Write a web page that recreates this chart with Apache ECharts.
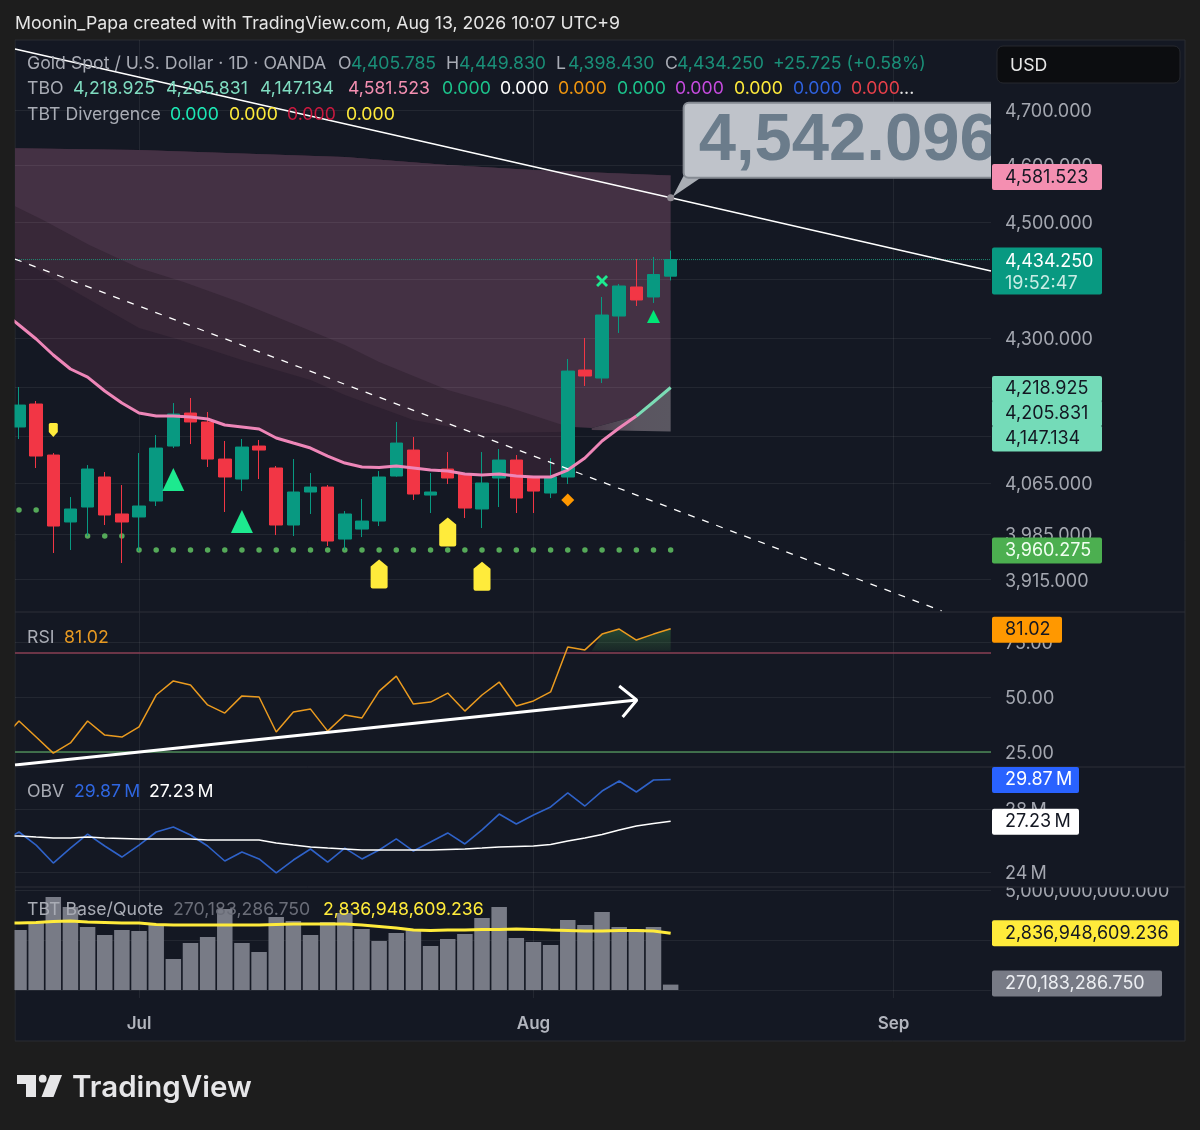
<!DOCTYPE html>
<html><head><meta charset="utf-8">
<style>html,body{margin:0;padding:0;background:#1d1d1d}#c{width:1200px;height:1130px}</style>
<script src="https://cdn.jsdelivr.net/npm/echarts@6/dist/echarts.min.js"></script>
</head><body><div id="c"></div>
<script>
// ---- data ----
const monthIdx=[7,30,51];
const monthNames=['Jul','Aug','Sep'];
const opens=[4154.6,4191.9,4109.5,4003.8,4027.2,4074.5,4016.3,4011.6,4036.6,4123.9,4177.2,4162.7,4103.1,4071.3,4123.9,4088.8,3999.1,4050.8,4058.6,3977.3,3992.8,4005.3,4076.1,4117.5,4046,4087.2,4079.2,4024.1,4072.9,4101.5,4072.9,4049.2,4074.5,4247.7,4234.5,4337.9,4387.2,4370.2,4405.785];
const closes=[4190.2,4107.9,3997.5,4024.1,4087.2,4014.7,4003.8,4028.8,4120.7,4175.6,4162.7,4103.1,4074.5,4122.3,4117.5,3999.1,4050.8,4058.6,3974.3,4016.3,4005.3,4074.5,4128.7,4047.6,4050.8,4072.9,4025.6,4065,4101.5,4041.3,4052.3,4074.5,4246,4237.8,4339.6,4388.9,4365.1,4408.525,4434.25];
const lows=[4135.2,4088.8,3955.8,3960.4,3982,3999.1,3940.4,3958.9,4028.8,4120.7,4127.1,4090.4,4019.4,4052.3,4071.3,3983.5,3982,4016.3,3966.5,3960.4,3980.4,3997.5,4075,4038.2,4017.8,4063.4,4010,3994.4,4027.2,4017.8,4017.8,4041.3,4063.4,4221.4,4226.3,4309.4,4354.9,4360,4398.43];
const highs=[4219.7,4196.8,4112.7,4042.9,4093.5,4082.4,4061.8,4112.7,4141.6,4193.5,4201.7,4178.9,4132,4135.2,4133.6,4092,4103.1,4080.8,4061.8,4020.9,4039.8,4084,4162.7,4138.4,4080.8,4114.3,4080,4114.3,4119.1,4109.5,4074.5,4104.7,4266,4301,4370.2,4392.3,4435.3,4438.8,4449.83];
// TBO line, first entry sits one bar left of the visible range
const tboLine=[4346.4,4322.8,4299.3,4272.6,4249.4,4236.1,4213.2,4193.5,4177.2,4172.3,4172.3,4170.7,4167.5,4157.8,4154.6,4151.3,4136.8,4128.7,4120.7,4107.9,4096.7,4090.4,4089.6,4092,4088.8,4085.6,4084,4079.2,4077.7,4079.2,4076.1,4074.5,4074.5,4085.6,4104.7,4132,4153,4172.3,4195.2,4218.925];
const tboTeal=[[36,4172.3],[37,4195.2],[38,4218.925]];
const cloudTop=[[-1,4631],[7,4627.4],[19,4614.8],[25,4600.5],[30,4591.5],[38,4581.523]];
const cloudEdge1=[[38,4218.925],[37,4195.2],[36,4172.3],[33.4,4153],[32,4155],[28.5,4186.9],[25,4214.8],[21,4261],[19,4289.2],[16.6,4317.7],[13,4360],[9.6,4395.8],[7,4419.8],[4.1,4459.5],[1.4,4503.1],[-1,4538.3]];
const cloudEdge2=[[32.3,4147],[27,4144.8],[23,4165.9],[19,4206.6],[17,4231.2],[13,4264.3],[9.4,4297.6],[7,4317.7],[2.4,4394.1],[-1,4454.3]];
const cloudEnd=[[32.3,4147],[32,4085.6]];
const wedgeUpper=[[33.4,4153],[36,4172.3],[37,4195.2],[38,4218.925]];
const wedgeLower=[[38,4147.134],[33.4,4149.7]];
const supportDots=[4022.5,4022.5,null,null,3982,3982,3982,3960.275,3960.275,3960.275,3960.275,3960.275,3960.275,3960.275,3960.275,3960.275,3960.275,3960.275,3960.275,3960.275,3960.275,3960.275,3960.275,3960.275,3960.275,3960.275,3960.275,3960.275,3960.275,3960.275,3960.275,3960.275,3960.275,3960.275,3960.275,3960.275,3960.275,3960.275,3960.275];
const bigTriangles=[[9,4070.5],[13,4004.5]];
const smallTriangles=[[37,4337.1]];
const crosses=[[34,4397.5]];
const diamonds=[[32,4038.2]];
const yellowFlagsUp=[[21,3923.6],[25,3988.2],[27,3920]];
const yellowFlagsDown=[[2,4149.7]];
const lastPrice=4434.25;
const calloutPoint=[38,4542.096];
const trendSolid=[[-0.233,4812.9],[38,4542.096],[56.68,4414.6]];
const trendDashed=[[-0.233,4435.2],[53.8,3867.7]];
const rsiLine=[30.5,39.1,31.8,24.5,29.1,39.1,32.7,31.8,36.4,50.9,57.3,55.5,46.4,42.7,50.5,50,34.1,43.2,44.5,34.5,41.8,40.5,52.7,59.5,46.8,47.7,51.8,43.6,50.9,56.8,45.9,48.2,52.3,72.7,71.4,78.6,80.9,75.9,78.6,81.02];
const rsiOverbought=[[33.4,71],[34,78.6],[35,80.9],[36,75.9],[37,78.6],[38,81.02],[38,71]];
const rsiArrow=[[-0.233,19.1],[36.03,48.6]];
const rsiArrowHead=[[35,55],[36.03,48.6],[35.2,40.9]];
const obvLine=[25.9,26.54,25.71,24.57,25.52,26.41,25.65,24.95,25.71,26.54,26.86,26.35,25.65,24.70,25.27,24.83,23.94,24.76,25.46,24.63,25.52,24.83,25.40,26.10,25.33,25.90,26.48,25.78,26.67,27.68,27.05,27.62,28.13,29.02,28.19,29.14,29.78,29.08,29.84,29.87];
const obvAvg=[26.29,26.29,26.22,26.16,26.16,26.22,26.16,26.13,26.10,26.10,26.10,26.10,26.03,26.03,26.03,26.03,25.84,25.71,25.59,25.52,25.46,25.40,25.40,25.40,25.40,25.40,25.43,25.46,25.52,25.59,25.62,25.65,25.75,25.97,26.16,26.38,26.67,26.92,27.08,27.23];
const tbtBars=[3.0e9,3.35e9,4.65e9,4.15e9,3.15e9,2.75e9,3.0e9,2.95e9,3.25e9,1.55e9,2.35e9,2.65e9,4.05e9,2.35e9,1.9e9,3.65e9,3.45e9,2.75e9,3.4e9,3.85e9,3.05e9,2.45e9,2.85e9,3.0e9,2.2e9,2.55e9,2.8e9,3.6e9,4.15e9,2.6e9,2.4e9,2.25e9,3.5e9,3.25e9,3.9e9,3.15e9,3.05e9,3.15e9,270183286.75];
const tbtAvg=[3.35e9,3.35e9,3.38e9,3.43e9,3.45e9,3.40e9,3.38e9,3.35e9,3.35e9,3.28e9,3.25e9,3.25e9,3.25e9,3.25e9,3.25e9,3.25e9,3.28e9,3.30e9,3.30e9,3.30e9,3.30e9,3.25e9,3.18e9,3.10e9,3.00e9,2.98e9,3.00e9,3.00e9,3.03e9,3.03e9,3.05e9,3.03e9,3.00e9,2.98e9,2.95e9,2.95e9,2.98e9,2.98e9,2.95e9,2836948609.236];
const priceTicks=[4700,4600,4500,4400,4300,4220,4140,4065,3985,3915];
const rsiTicks=[75,50,25];
const rsiLevels=[70,25];
const obvTicks=[28,24];
const tbtTicks=[5e9,2.5e9,0];
const tbtTickLabels=['5,000,000,000.000','',''];
// price tags: value, text, background, text colour, width, vertical shift
const priceTags=[[4581.523,'4,581.523','#f48fb1','#131722',110,1.5],[4218.925,'4,218.925','#74dbb8','#131722',110,1.5],[4205.831,'4,205.831','#74dbb8','#131722',110,18],[4147.134,'4,147.134','#74dbb8','#131722',110,7],[3960.275,'3,960.275','#4caf50','#f0fff0',110,0.5]];
const rsiTags=[[81.02,'81.02','#ff9800','#131722',70,1]];
const obvTags=[[29.87,'29.87\u2009M','#2962ff','#ffffff',87,0.5],[27.23,'27.23\u2009M','#ffffff','#131722',87,0.5]];
const tbtTags=[[2836948609.236,'2,836,948,609.236','#ffeb3b','#131722',187,0],[270183286.75,'270,183,286.750','#787b86','#eceef2',170,-1]];

// ---- layout ----
const F='Inter, sans-serif', AXC='#a4a7b0', GRID='rgba(255,255,255,0.065)', AXS=18, LGS=17.7;
const xMin=-0.233, xMax=56.68;
const panes=[{top:40,height:572},{top:612,height:155},{top:767,height:120},{top:887,height:103}];
const xs=a=>a.map((v,k)=>[k,v]);
const xsLead=a=>a.map((v,k)=>[k-1,v]);

function line(p,data,color,width,extra){return Object.assign({type:'line',xAxisIndex:p,yAxisIndex:p,data,showSymbol:false,symbol:'none',silent:true,z:8,lineStyle:{color,width},clip:true},extra||{});}
function poly(p,pts,fill,z){return {type:'custom',xAxisIndex:p,yAxisIndex:p,data:[pts[0]],silent:true,clip:true,z:z,encode:{x:0,y:1},
  renderItem:(params,api)=>({type:'polygon',shape:{points:pts.map(q=>api.coord(q))},style:{fill:fill}})};}
function ticks(p,vals,fmt){return {type:'line',xAxisIndex:p,yAxisIndex:p,data:[],z:3,silent:true,markLine:{silent:true,symbol:'none',animation:false,precision:3,lineStyle:{color:GRID,width:1,type:'solid'},
  label:{position:'end',distance:14,color:AXC,fontFamily:F,fontSize:AXS,offset:[0,1.5]},
  data:vals.map((v,i)=>({yAxis:v,label:{formatter:fmt(v,i)}}))}};}
function marks(p,data,symbol,size,color,z){return {type:'scatter',xAxisIndex:p,yAxisIndex:p,data,symbol,symbolSize:size,silent:true,z:z||9,itemStyle:{color,opacity:1},clip:true};}
function tags(p,list){return list.map(t=>({type:'scatter',xAxisIndex:p,yAxisIndex:p,symbol:'circle',symbolSize:0,silent:true,clip:false,z:50,itemStyle:{opacity:1},data:[[xMax,t[0]]],
  label:{show:true,opacity:1,position:'right',distance:1,offset:[0,t[5]],formatter:t[1],color:t[3],backgroundColor:t[2],borderRadius:2,fontFamily:F,fontSize:AXS,width:t[4]-13,height:26,lineHeight:26,padding:[0,0,0,13],overflow:'none'}}));}
const HOUSE='path://M8.5,0 L17,7 L17,27 Q17,29 15,29 L2,29 Q0,29 0,27 L0,7 Z';
const HOUSE_DOWN='path://M1.5,0 L7.5,0 Q9,0 9,1.5 L9,9 L4.5,14 L0,9 L0,1.5 Q0,0 1.5,0 Z';
const CROSS='path://M2,0 L6,4 L10,0 L12,2 L8,6 L12,10 L10,12 L6,8 L2,12 L0,10 L4,6 L0,2 Z';
const fmt3=v=>v.toLocaleString('en-US',{minimumFractionDigits:3,maximumFractionDigits:3});

const calloutText='4,542.096';
const series=[
 poly(0,cloudTop.concat(cloudEnd).concat(tboLine.slice(0,33).map((v,k)=>[k-1,v]).reverse()),'#2e2131',1),
 poly(0,cloudTop.concat(cloudEdge2),'#382838',1.1),
 poly(0,cloudTop.concat(cloudEdge1),'#443144',1.2),
 {type:'custom',xAxisIndex:0,yAxisIndex:0,data:[wedgeUpper[0]],silent:true,clip:true,z:1.3,encode:{x:0,y:1},
  renderItem:(params,api)=>{const pts=wedgeUpper.concat(wedgeLower).map(q=>api.coord(q));return {type:'polygon',shape:{points:pts},style:{fill:new echarts.graphic.LinearGradient(0,0,1,0,[{offset:0,color:'#4a3a4a'},{offset:0.55,color:'#5a5560'},{offset:1,color:'#5a5761'}])}};}},
 ticks(0,priceTicks,fmt3),
 ticks(1,rsiTicks,v=>v.toFixed(2)),
 ticks(2,obvTicks,v=>v+'\u2009M'),
 ticks(3,tbtTicks,(v,i)=>tbtTickLabels[i]),
 line(0,[[xMin,lastPrice],[xMax,lastPrice]],'#1f8a75',1,{lineStyle:{color:'#1f8a75',width:1,type:'dotted'},z:4}),
 marks(0,xs(supportDots).filter(d=>d[1]!==null),'circle',5.5,'#55a959',5),
 {type:'candlestick',xAxisIndex:0,yAxisIndex:0,silent:true,z:6,barWidth:13,
  data:opens.map((o,i)=>[i,o,closes[i],lows[i],highs[i]]),
  itemStyle:{color:'#089981',color0:'#f23645',borderColor:'#089981',borderColor0:'#f23645',borderWidth:1}},
 line(0,xsLead(tboLine).slice(0,38),'#ee86b8',3,{z:7}),
 line(0,tboTeal,'#7bdcb5',3,{z:7}),
 marks(0,bigTriangles,'triangle',[22,23],'#1de98f'),
 marks(0,smallTriangles,'triangle',[13,13],'#00e676'),
 marks(0,crosses,CROSS,[12,12],'#1de98f'),
 marks(0,diamonds,'diamond',[13,13],'#ff9800'),
 marks(0,yellowFlagsUp,HOUSE,[17,29],'#ffeb3b'),
 marks(0,yellowFlagsDown,HOUSE_DOWN,[9,14],'#ffeb3b'),
 line(0,trendDashed,'#ffffff',1.3,{lineStyle:{color:'#ffffff',width:1.3,type:[7,8]},z:8}),
 line(0,trendSolid,'#ffffff',1.5,{z:8}),
 {type:'custom',xAxisIndex:0,yAxisIndex:0,data:[calloutPoint],silent:true,clip:true,z:10,encode:{x:0,y:1},
  renderItem:(params,api)=>{const c=api.coord(calloutPoint);return {type:'group',x:c[0],y:c[1],children:[
    {type:'polygon',shape:{points:[[2,-1],[14,-24],[30,-20]]},style:{fill:'#a9adb4'}},
    {type:'rect',shape:{x:13,y:-95,width:340,height:75,r:5},style:{fill:'#bfc3ca',stroke:'#858a92',lineWidth:2}},
    {type:'text',x:28,y:-56,style:{text:calloutText,fill:'#6b7c8b',font:'bold 67px "Liberation Sans", Arial, sans-serif',verticalAlign:'middle'}},
    {type:'circle',shape:{cx:0,cy:0,r:3.5},style:{fill:'#8d8891'}}
  ]};}},
 // RSI
 {type:'line',xAxisIndex:1,yAxisIndex:1,data:[],z:4,silent:true,markLine:{silent:true,symbol:'none',animation:false,label:{show:false},
   data:[{yAxis:rsiLevels[0],lineStyle:{color:'#8a3f54',width:1.5,type:'solid'}},{yAxis:rsiLevels[1],lineStyle:{color:'#4c8a57',width:1.5,type:'solid'}}]}},
 {type:'custom',xAxisIndex:1,yAxisIndex:1,data:[rsiOverbought[0]],silent:true,clip:true,z:5,encode:{x:0,y:1},
  renderItem:(params,api)=>({type:'polygon',shape:{points:rsiOverbought.map(q=>api.coord(q))},style:{fill:new echarts.graphic.LinearGradient(0,0,0,1,[{offset:0,color:'rgba(76,175,80,0.32)'},{offset:1,color:'rgba(76,175,80,0.10)'}])}})},
 line(1,xsLead(rsiLine),'#eb9b1f',1.5),
 line(1,rsiArrow,'#ffffff',3,{z:9}),
 line(1,rsiArrowHead,'#ffffff',3,{z:9}),
 // OBV
 line(2,xsLead(obvLine),'#2f62c8',1.6),
 line(2,xsLead(obvAvg),'#ffffff',1.5),
 // TBT
 {type:'bar',xAxisIndex:3,yAxisIndex:3,silent:true,z:5,barWidth:15.5,data:xs(tbtBars),itemStyle:{color:'#787b86'}},
 line(3,xsLead(tbtAvg),'#ffeb3b',3),
 ...tags(0,priceTags),
 {type:'scatter',xAxisIndex:0,yAxisIndex:0,symbol:'circle',symbolSize:0,silent:true,clip:false,z:50,itemStyle:{opacity:1},data:[[xMax,lastPrice]],
  label:{show:true,opacity:1,position:'right',distance:1,offset:[0,11.5],formatter:'{a|4,434.250}\n{b|19:52:47}',backgroundColor:'#089981',borderRadius:2,fontFamily:F,fontSize:AXS,width:97,padding:[3,0,0,13],overflow:'none',
   rich:{a:{color:'#ffffff',fontFamily:F,fontSize:AXS,lineHeight:22},b:{color:'#c8ece4',fontFamily:F,fontSize:AXS,lineHeight:22}}}},
 ...tags(1,rsiTags),...tags(2,obvTags),...tags(3,tbtTags)
];

// ---- text rows ----
const G='#1a8f78', T='#7fdcc0', GR='#a9acb5';
const legendRows=[
 [27,63,'Gold Spot / U.S. Dollar · 1D · OANDA',GR],[338,63,'O',GR],[351,63,'4,405.785',G],[446,63,'H',GR],[459,63,'4,449.830',G],[556,63,'L',GR],[568,63,'4,398.430',G],[665,63,'C',GR],[677,63,'4,434.250',G],[773,63,'+25.725 (+0.58%)',G],
 [27,88,'TBO',GR],[73,88,'4,218.925',T],[166,88,'4,205.831',T],[260,88,'4,147.134',T],[348,88,'4,581.523','#f48fb1'],[442,88,'0.000','#1cc48c'],[500,88,'0.000','#ffffff'],[558,88,'0.000','#f0960f'],[617,88,'0.000','#1cc48c'],[675,88,'0.000','#c74be0'],[734,88,'0.000','#ffeb3b'],[793,88,'0.000','#2f62e0'],[851,88,'0.000','#e8404a'],[899,88,'...','#e8e8e8'],
 [27,114,'TBT Divergence',GR],[170,114,'0.000','#1de9b6'],[229,114,'0.000','#ffeb3b'],[287,114,'0.000','#c8193f'],[346,114,'0.000','#ffeb3b'],
 [27,637,'RSI',GR],[64,637,'81.02','#e89a22'],
 [27,791,'OBV',GR],[74,791,'29.87\u2009M','#2f66e0'],[149,791,'27.23\u2009M','#ffffff'],
 [27,909,'TBT Base/Quote',GR],[173,909,'270,183,286.750','#6a6d78'],[323,909,'2,836,948,609.236','#ffeb3b']
];
const txt=(x,y,s,c,font,z)=>({type:'text',x,y:y+1,z:z||40,silent:true,style:{text:s,fill:c,font:font||(LGS+'px '+F),verticalAlign:'middle'}});
const hline=(y)=>({type:'line',z:45,silent:true,shape:{x1:15,y1:y,x2:1185,y2:y},style:{stroke:'#2c2f38',lineWidth:1}});
const graphicEls=[
 {type:'rect',z:-100,silent:true,shape:{x:15,y:40,width:1170,height:1001},style:{fill:'#141823',stroke:'#2a2c33',lineWidth:1}},
 {type:'rect',z:44,silent:true,shape:{x:0,y:40,width:14.5,height:1001},style:{fill:'#1d1d1d'}},
 {type:'rect',z:44,silent:true,shape:{x:992,y:880,width:190,height:7},style:{fill:'#141823'}},
 hline(612),hline(767),hline(887),
 txt(15,23,'Moonin_Papa created with TradingView.com, Aug 13, 2026 10:07 UTC+9','#e6e6e6',LGS+'px '+F),
 ...legendRows.map(r=>txt(r[0],r[1],r[2],r[3])),
 {type:'rect',z:40,silent:true,shape:{x:997,y:46,width:183,height:37,r:6},style:{fill:'#0c0d10',stroke:'#26282e',lineWidth:1}},
 txt(1010,64.5,'USD','#e8e8e8'),
 {type:'polygon',z:40,silent:true,shape:{points:[[17,1075],[36,1075],[36,1097],[26,1097],[26,1084],[17,1084]]},style:{fill:'#e6e6e8'}},
 {type:'circle',z:40,silent:true,shape:{cx:42.7,cy:1078.7,r:3.9},style:{fill:'#e6e6e8'}},
 {type:'polygon',z:40,silent:true,shape:{points:[[50,1075],[62,1075],[53.5,1097],[41.5,1097]]},style:{fill:'#e6e6e8'}},
 txt(72,1087,'TradingView','#e6e6e8','600 29.5px '+F)
];

const chart=echarts.init(document.getElementById('c'),null,{renderer:'canvas'});
chart.setOption({
 animation:false,backgroundColor:'#1d1d1d',
 grid:panes.map(p=>({left:15,width:976,top:p.top,height:p.height,show:false})),
 xAxis:panes.map((p,i)=>({type:'value',gridIndex:i,min:xMin,max:xMax,
   axisLine:{show:false},
   axisTick:{show:i===3,length:8,lineStyle:{color:GRID},customValues:monthIdx},
   splitLine:{show:true,lineStyle:{color:GRID,width:1}},
   axisLabel:{show:i===3,customValues:monthIdx,margin:25,color:'#b2b5be',fontFamily:F,fontSize:17,fontWeight:600,hideOverlap:false,
     formatter:v=>monthNames[monthIdx.indexOf(v)]||''}})),
 yAxis:[
  {type:'log',gridIndex:0,show:false,min:3866,max:4829.8,splitLine:{show:false}},
  {type:'value',gridIndex:1,show:false,min:18.18,max:88.64,splitLine:{show:false}},
  {type:'value',gridIndex:2,show:false,min:23.048,max:30.667,splitLine:{show:false}},
  {type:'value',gridIndex:3,show:false,min:0,max:5.15e9,splitLine:{show:false}}
 ],
 graphic:{elements:graphicEls},
 series
});
</script></body></html>
